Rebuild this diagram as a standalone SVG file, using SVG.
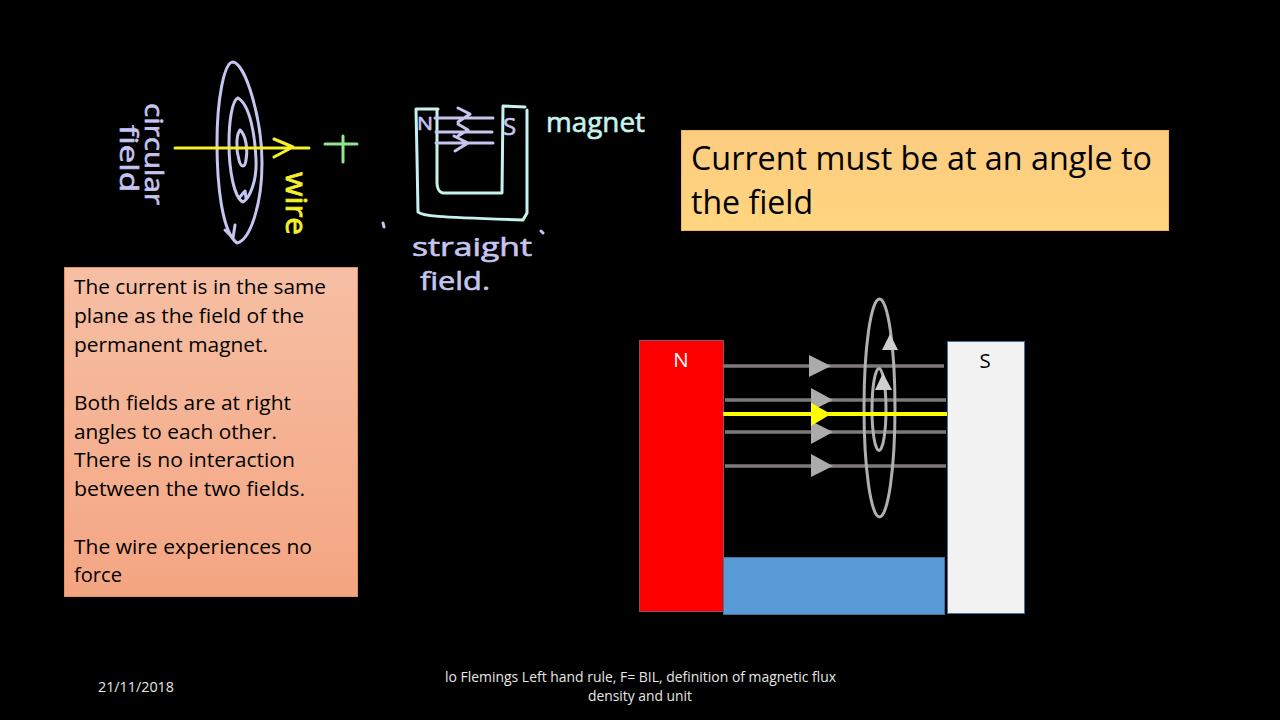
<svg xmlns="http://www.w3.org/2000/svg" width="1280" height="720" viewBox="0 0 1280 720">
<defs>
<linearGradient id="gOrange" x1="0" y1="0" x2="0" y2="1"><stop offset="0" stop-color="#fccb80"/><stop offset="1" stop-color="#ffd67f"/></linearGradient>
<linearGradient id="gSalmon" x1="0" y1="0" x2="0" y2="1"><stop offset="0" stop-color="#f6bfa4"/><stop offset="1" stop-color="#f4a582"/></linearGradient>
</defs>
<style>
text{font-family:"Open Sans","Noto Sans","DejaVu Sans",sans-serif;fill:#000}
.ink{fill:none;stroke-linecap:round;stroke-linejoin:round;stroke-width:3}
.lav{stroke:#c5c5f0}.cy{stroke:#c6f3ee}.ye{stroke:#f4f02c}.gr{stroke:#8ee88e}
text.hl{fill:#c5c5f0;stroke:#c5c5f0;stroke-width:.6}
text.hc{fill:#c6f3ee;stroke:#c6f3ee;stroke-width:.6}
text.hy{fill:#f4f02c;stroke:#f4f02c;stroke-width:.8}
.fl{stroke:#7f7a7a;stroke-width:3.500;fill:none}
.tri{fill:#ababab}
.loop{fill:none;stroke:#b0b0b0;stroke-width:3}
text.foot{fill:#e6e6e6;font-size:14.500px}
</style>
<rect width="1280" height="720" fill="#000"/>
<g id="sketch-circular">
<path class="ink lav" d="M233 62C224 62 217 100 217 143C217 185 222 232 237 243C250 240 262 205 262 163C262 120 246 64 233 62Z"/>
<path class="ink lav" d="M238 98C232 100 229 122 229 143C229 170 234 198 243 202C250 198 257 180 256 160C255 135 250 105 238 98"/>
<path class="ink lav" d="M240 130C236 135 236 150 239 160C241 168 245 168 246 160C248 150 246 135 240 130"/>
<path class="ink lav" d="M225 230L233 238L235 225"/>
<path class="ink lav" d="M239 198L245 191L246 198"/>
<text class="hl" transform="translate(145,103) rotate(90)" font-size="25" textLength="102" lengthAdjust="spacingAndGlyphs">circular</text>
<text class="hl" transform="translate(120,125) rotate(90)" font-size="25" textLength="67" lengthAdjust="spacingAndGlyphs">field</text>
</g>
<g id="sketch-wire">
<path class="ink ye" d="M175 148L309 148M274 139L293 147L274 157"/>
<text class="hy" transform="translate(286,172) rotate(90)" font-size="30" textLength="63" lengthAdjust="spacingAndGlyphs">wire</text>
</g>
<g id="sketch-plus"><path class="ink gr" d="M325 144L357 144M343 136L343 162"/></g>
<g id="sketch-magnet">
<path class="ink cy" d="M416 109L438 109M416 109L417 157L418 212C422 216 433 217 523 220L527 213L527 110M525 107L503 106L502 193L443 193C438 192 437 186 437 183L437 110"/>
<text class="hc" x="546" y="132" font-size="27" textLength="99" lengthAdjust="spacingAndGlyphs">magnet</text>
<text class="hl" x="417" y="130" font-size="18" textLength="16" lengthAdjust="spacingAndGlyphs">N</text>
<text class="hl" x="503" y="135" font-size="24">S</text>
<path class="ink lav" d="M435 118L493 118M436 132L492 132M436 143L493 143M458 108L470 114L458 122M458 124L468 130L458 136M454 136L468 143L455 151"/>
<path class="ink lav" d="M383 223L384 227M541 231L543 233"/>
<text class="hl" x="412" y="256" font-size="25" textLength="120" lengthAdjust="spacingAndGlyphs">straight</text>
<text class="hl" x="420" y="290" font-size="25" textLength="70" lengthAdjust="spacingAndGlyphs">field.</text>
</g>
<g id="note-current">
<rect x="681.500" y="130.500" width="487" height="100" fill="url(#gOrange)" stroke="#f0b858"/>
<text x="691" y="170" font-size="32" textLength="461" lengthAdjust="spacingAndGlyphs">Current must be at an angle to</text>
<text x="691" y="214" font-size="32" textLength="122" lengthAdjust="spacingAndGlyphs">the field</text>
</g>
<g id="note-plane">
<rect x="64.500" y="267.500" width="293" height="329" fill="url(#gSalmon)" stroke="#e58f5c"/>
<g font-size="20.500">
<text x="74" y="294" textLength="252" lengthAdjust="spacingAndGlyphs">The current is in the same</text>
<text x="74" y="323" textLength="230" lengthAdjust="spacingAndGlyphs">plane as the field of the</text>
<text x="74" y="352" textLength="194" lengthAdjust="spacingAndGlyphs">permanent magnet.</text>
<text x="74" y="410" textLength="217" lengthAdjust="spacingAndGlyphs">Both fields are at right</text>
<text x="74" y="439" textLength="203" lengthAdjust="spacingAndGlyphs">angles to each other.</text>
<text x="74" y="467" textLength="221" lengthAdjust="spacingAndGlyphs">There is no interaction</text>
<text x="74" y="496" textLength="231" lengthAdjust="spacingAndGlyphs">between the two fields.</text>
<text x="74" y="554" textLength="238" lengthAdjust="spacingAndGlyphs">The wire experiences no</text>
<text x="74" y="582" textLength="48" lengthAdjust="spacingAndGlyphs">force</text>
</g>
</g>
<g id="magnet-n"><rect x="639.500" y="340.500" width="84" height="271" fill="#ff0000" stroke="#8a5070"/><text x="681" y="367" text-anchor="middle" font-size="20.500" style="fill:#fff">N</text></g>
<g id="magnet-s"><rect x="947.500" y="341.500" width="77" height="272" fill="#f2f2f2" stroke="#41719c"/><text x="985" y="368" text-anchor="middle" font-size="20.500">S</text></g>
<g id="magnet-yoke"><rect x="723.500" y="557.500" width="221" height="57" fill="#5b9bd5" stroke="#41719c"/></g>
<g id="connectors">
<path class="fl" d="M723 366H944M725 400H946M725 432H946M725 466H946"/>
<path d="M809 355L831 366L809 377Z" class="tri"/>
<path d="M811 388L833 400L811 411Z" class="tri"/>
<path d="M811 421L833 432L811 444Z" class="tri"/>
<path d="M811 454L833 466L811 477Z" class="tri"/>
<ellipse cx="879.500" cy="408" rx="15.500" ry="109" class="loop"/>
<ellipse cx="879" cy="409.500" rx="7" ry="41" class="loop"/>
<path d="M723 414H947" stroke="#ffff00" stroke-width="4" fill="none"/>
<path d="M811 403L831 414L811 426Z" fill="#ffff00"/>
<path d="M890 334L898 350H882Z" fill="#cfcfcf"/>
<path d="M883 373L892 390H875Z" fill="#cfcfcf"/>
</g>
<g id="footer">
<text x="98" y="692" class="foot" textLength="76" lengthAdjust="spacingAndGlyphs">21/11/2018</text>
<text x="445" y="682" class="foot" textLength="391" lengthAdjust="spacingAndGlyphs">lo Flemings Left hand rule, F= BIL, definition of magnetic flux</text>
<text x="588" y="701" class="foot" textLength="104" lengthAdjust="spacingAndGlyphs">density and unit</text>
</g>
</svg>
